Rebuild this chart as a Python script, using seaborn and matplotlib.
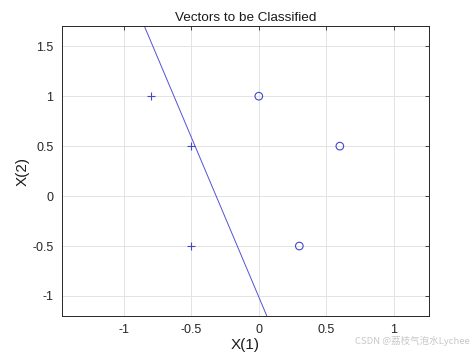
import numpy as np
import pandas as pd
import matplotlib
matplotlib.use('Agg')
import matplotlib.pyplot as plt
import seaborn as sns

# ============================================================
# DATA
# ============================================================
x1 = [-0.8, -0.5, -0.5, 0.0, 0.6, 0.3]
x2 = [1.0, 0.5, -0.5, 1.0, 0.5, -0.5]
target = [0, 0, 0, 1, 1, 1]

# decision boundary w1*x + w2*y + b = 0
w = [3.2, 1.0]
b = 1.01

xlim = (-1.46, 1.26)
ylim = (-1.2, 1.7)
xticks = [-1, -0.5, 0, 0.5, 1]
yticks = [-1, -0.5, 0, 0.5, 1, 1.5]

sns.set_style('white')
plt.rcParams['font.family'] = ['Liberation Sans', 'DejaVu Sans']

pts = pd.DataFrame({'x': x1, 'y': x2, 'cls': target})
lx = np.array(xlim)
line = pd.DataFrame({'x': lx, 'y': -(w[0] * lx + b) / w[1]})

fig, ax = plt.subplots(figsize=(4.74, 3.55), dpi=100)
fig.subplots_adjust(left=0.13, right=0.905, top=0.926, bottom=0.11)

blue = '#4646cc'
sns.scatterplot(data=pts[pts.cls == 0], x='x', y='y', marker='+', s=28,
                color=blue, linewidth=0.8, ax=ax, zorder=3)
sns.scatterplot(data=pts[pts.cls == 1], x='x', y='y', marker='o', s=30,
                facecolor='none', edgecolor=blue, linewidth=0.8, ax=ax, zorder=3)
sns.lineplot(data=line, x='x', y='y', color='#5252d4', linewidth=0.7, ax=ax, zorder=2)

ax.set_xlim(*xlim)
ax.set_ylim(*ylim)
ax.set_xticks(xticks)
ax.set_yticks(yticks)
ax.set_xticklabels(['-1', '-0.5', '0', '0.5', '1'])
ax.set_yticklabels(['-1', '-0.5', '0', '0.5', '1', '1.5'])
ax.grid(True, color='#e3e3e3', linewidth=0.7)
ax.set_axisbelow(True)
ax.tick_params(direction='in', length=3, width=0.6, colors='#262626',
               labelsize=9, top=True, right=True, pad=6)
for s in ax.spines.values():
    s.set_color('#262626')
    s.set_linewidth(0.7)

ax.set_title('Vectors to be Classified', fontsize=9.7, color='#1a1a1a', pad=4)
ax.set_xlabel('X(1)', fontsize=11, color='#1a1a1a', labelpad=1)
ax.set_ylabel('X(2)', fontsize=11, color='#1a1a1a', labelpad=2)

fig.text(0.99, 0.025, 'CSDN @荔枝气泡水Lychee', ha='right', va='bottom',
         fontsize=6.8, color='#c8c8c8',
         family=['Noto Sans CJK SC', 'DejaVu Sans'])

fig.savefig('out.png', dpi=100)
